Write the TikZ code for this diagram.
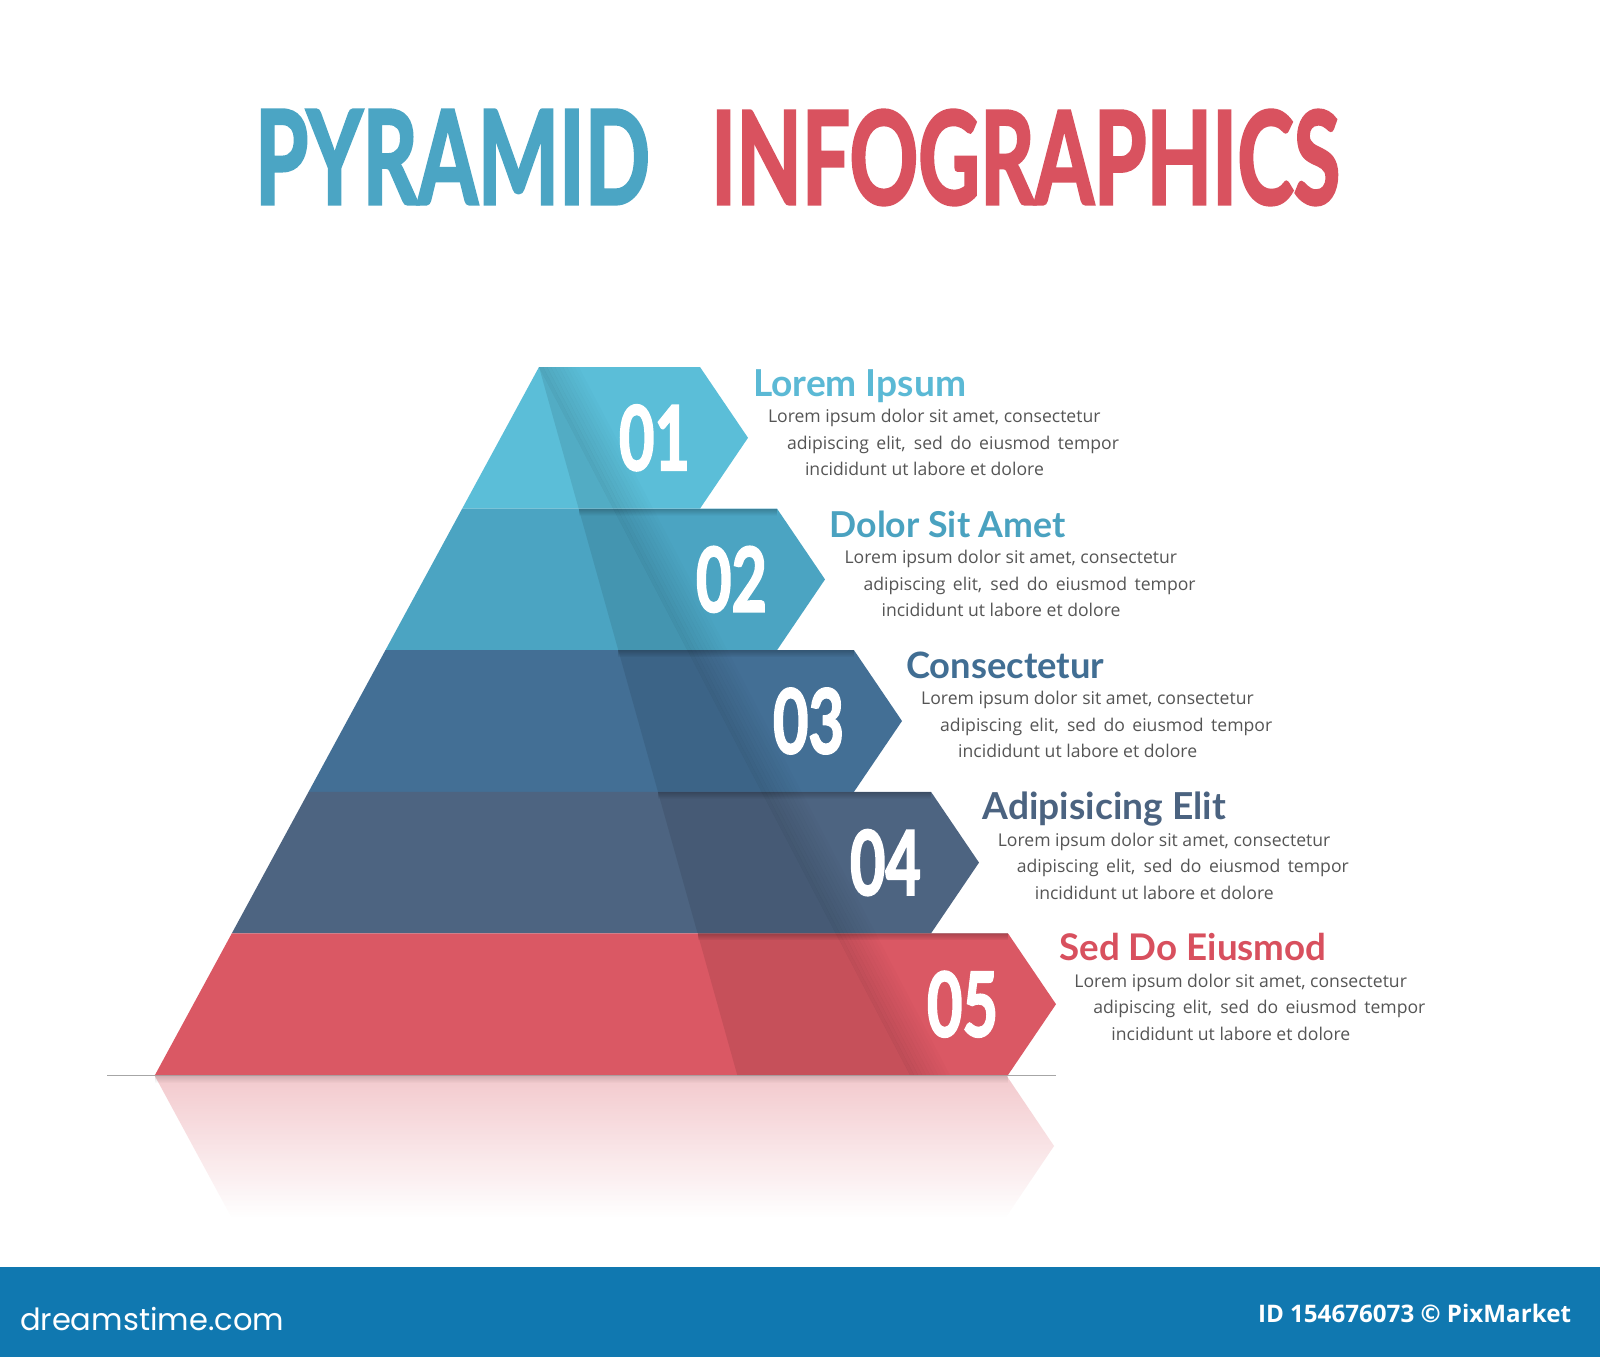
\documentclass[tikz,border=0pt]{standalone}
\usepackage{fontspec}
\setmainfont{Open Sans}
\newfontfamily\headfont{Lato}
\newfontfamily\titlefont{Lato}[BoldFeatures={FakeBold=2.5}]
\newfontfamily\logofont{Poppins}
\usetikzlibrary{fadings}
\definecolor{tA}{HTML}{5BBED8}
\definecolor{tB}{HTML}{4BA4C2}
\definecolor{tC}{HTML}{436F95}
\definecolor{tD}{HTML}{4D6481}
\definecolor{tE}{HTML}{DA5864}
\definecolor{hA}{HTML}{5BB9D5}
\definecolor{hB}{HTML}{4AA2C0}
\definecolor{hC}{HTML}{416E93}
\definecolor{hD}{HTML}{4B6380}
\definecolor{hE}{HTML}{D8505E}
\definecolor{ttlblue}{HTML}{4BA5C4}
\definecolor{ttlred}{HTML}{D9525F}
\definecolor{bodygray}{HTML}{555555}
\definecolor{footblue}{HTML}{1078B0}
\tikzset{
  txt/.style={inner sep=0pt, outer sep=0pt, anchor=base west},
  numtxt/.style={inner sep=0pt, outer sep=0pt, text=white},
  bodytxt/.style={txt, text=bodygray, font=\fontsize{17.6}{19}\selectfont},
}
\begin{document}
\begin{tikzpicture}[x=1pt,y=-1pt]
\useasboundingbox (0,0) rectangle (1600,1357);
\fill[white] (0,0) rectangle (1600,1357);
% title
\node[txt, text=ttlblue] (t1) at (255,204) {\resizebox{395pt}{94pt}{\titlefont\bfseries PYRAMID}};
\node[txt, text=ttlred] (t2) at (711,204) {\resizebox{629pt}{94pt}{\titlefont\bfseries INFOGRAPHICS}};
% reflection
\fill[tE, fill opacity=0.32, path fading=south] (155,1075) -- (1008,1075) -- (1056,1146) -- (1008,1217) -- (232,1217) -- cycle;
\fill[black, fill opacity=0.15, path fading=south] (155,1075) rectangle (1008,1083);
\draw[black!35, line width=0.8pt] (107,1075.5) -- (1056,1075.5);
% tiers
\foreach \i/\col/\hcol/\num/\head/\hw in {0/tA/hA/01/Lorem Ipsum/213, 1/tB/hB/02/Dolor Sit Amet/236, 2/tC/hC/03/Consectetur/198, 3/tD/hD/04/Adipisicing Elit/243, 4/tE/hE/05/Sed Do Eiusmod/267}{
  \pgfmathsetmacro\tTop{367+141.6*\i}
  \pgfmathsetmacro\tBot{\tTop+141.6}
  \pgfmathsetmacro\tMid{\tTop+70.8}
  \pgfmathsetmacro\tLt{539-0.5424*(\tTop-367)}
  \pgfmathsetmacro\tLb{539-0.5424*(\tBot-367)}
  \pgfmathsetmacro\tAt{539+0.28*(\tTop-367)}
  \pgfmathsetmacro\tAb{539+0.28*(\tBot-367)}
  \pgfmathsetmacro\tBt{539+0.524*(\tTop-367)}
  \pgfmathsetmacro\tBb{539+0.524*(\tBot-367)}
  \pgfmathsetmacro\tCo{700+77*\i}
  \pgfmathsetmacro\tTip{\tCo+48}
  \fill[\col] (\tLt,\tTop) -- (\tCo,\tTop) -- (\tTip,\tMid) -- (\tCo,\tBot) -- (\tLb,\tBot) -- cycle;
  % shaded face between fold lines
  \fill[black, fill opacity=0.09] (\tAt,\tTop) -- (\tBt,\tTop) -- (\tBb,\tBot) -- (\tAb,\tBot) -- cycle;
  % soft shadow right of fold
  \foreach \k in {0,...,9}{
    \pgfmathsetmacro\op{0.012*(10-\k)}
    \fill[black, fill opacity=\op] (\tBt+4*\k,\tTop) -- (\tBt+4*\k+4,\tTop) -- (\tBb+4*\k+4,\tBot) -- (\tBb+4*\k,\tBot) -- cycle;
  }
  % top shadow
  \ifnum\i>0
    \fill[black, fill opacity=0.22, path fading=south] (\tAt,\tTop) rectangle (\tCo,\tTop+7);
  \fi
  % number
  \node[numtxt] (n\i) at (\tCo-45.5,\tMid) {\resizebox{71pt}{65pt}{\titlefont\bfseries \num}};
  % heading and body
  \pgfmathsetmacro\hx{753+76.6*\i}
  \pgfmathsetmacro\hy{396+141.2*\i}
  \node[txt, text=\hcol] (h\i) at (\hx,\hy) {\resizebox{\hw pt}{!}{\headfont\bfseries \head}};
  \node[bodytxt] (ba\i) at (\hx+15,\hy+26.5) {Lorem ipsum dolor sit amet, consectetur};
  \node[bodytxt] (bb\i) at (\hx+34,\hy+53) {\makebox[332pt][s]{adipiscing elit, sed do eiusmod tempor}};
  \node[bodytxt] (bc\i) at (\hx+52,\hy+79.5) {incididunt ut labore et dolore};
}
% footer
\fill[footblue] (0,1267) rectangle (1600,1357);
\node[txt, text=white] (f1) at (20,1330) {\resizebox{264pt}{!}{\logofont dreamstime.com}};
\node[txt, text=white] (f2) at (1258,1322) {\resizebox{313pt}{!}{\bfseries ID 154676073 © PixMarket}};
\end{tikzpicture}
\end{document}
